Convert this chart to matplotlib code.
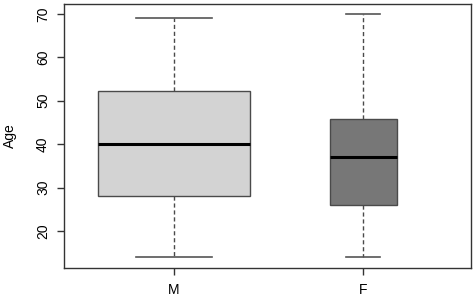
import matplotlib
matplotlib.use("Agg")
import matplotlib.pyplot as plt

plt.rcParams['font.family'] = ['Liberation Sans', 'DejaVu Sans']

# age summary by sex
groups = ["M", "F"]
whislo = [14, 14]
q1 = [28, 26]
med = [40, 37]
q3 = [52.3, 45.8]
whishi = [69, 70]
box_colors = ["#d3d3d3", "#777777"]
box_widths = [0.80, 0.355]

stats = []
for i, g in enumerate(groups):
    stats.append(dict(label=g, whislo=whislo[i], q1=q1[i], med=med[i],
                      q3=q3[i], whishi=whishi[i], fliers=[]))

fig = plt.figure(figsize=(4.74, 3.01), dpi=100)
ax = fig.add_axes([0.135, 0.11, 0.859, 0.877])

bp = ax.bxp(stats, positions=[1, 2], widths=box_widths, patch_artist=True,
            showfliers=False,
            boxprops=dict(edgecolor="#4a4a4a", linewidth=1.0),
            medianprops=dict(color="black", linewidth=2.2),
            whiskerprops=dict(color="#4a4a4a", linestyle=(0, (3, 2)), linewidth=1.0),
            capprops=dict(color="#555555", linewidth=1.2),
            capwidths=[w / 2 for w in box_widths])
for patch, c in zip(bp["boxes"], box_colors):
    patch.set_facecolor(c)

ax.set_xlim(0.418, 2.571)
ax.set_ylim(11.5, 72.3)
ax.set_yticks([20, 30, 40, 50, 60, 70])
ax.set_yticklabels(["20", "30", "40", "50", "60", "70"], rotation=90, va="center")
ax.set_ylabel("Age", fontsize=10, labelpad=14)
ax.tick_params(axis="both", labelsize=10, length=5, color="#333333", width=1.0, pad=5)
ax.tick_params(axis="x", pad=6)
for s in ax.spines.values():
    s.set_color("#333333")
    s.set_linewidth(1.0)

fig.savefig("out.png", dpi=100)
